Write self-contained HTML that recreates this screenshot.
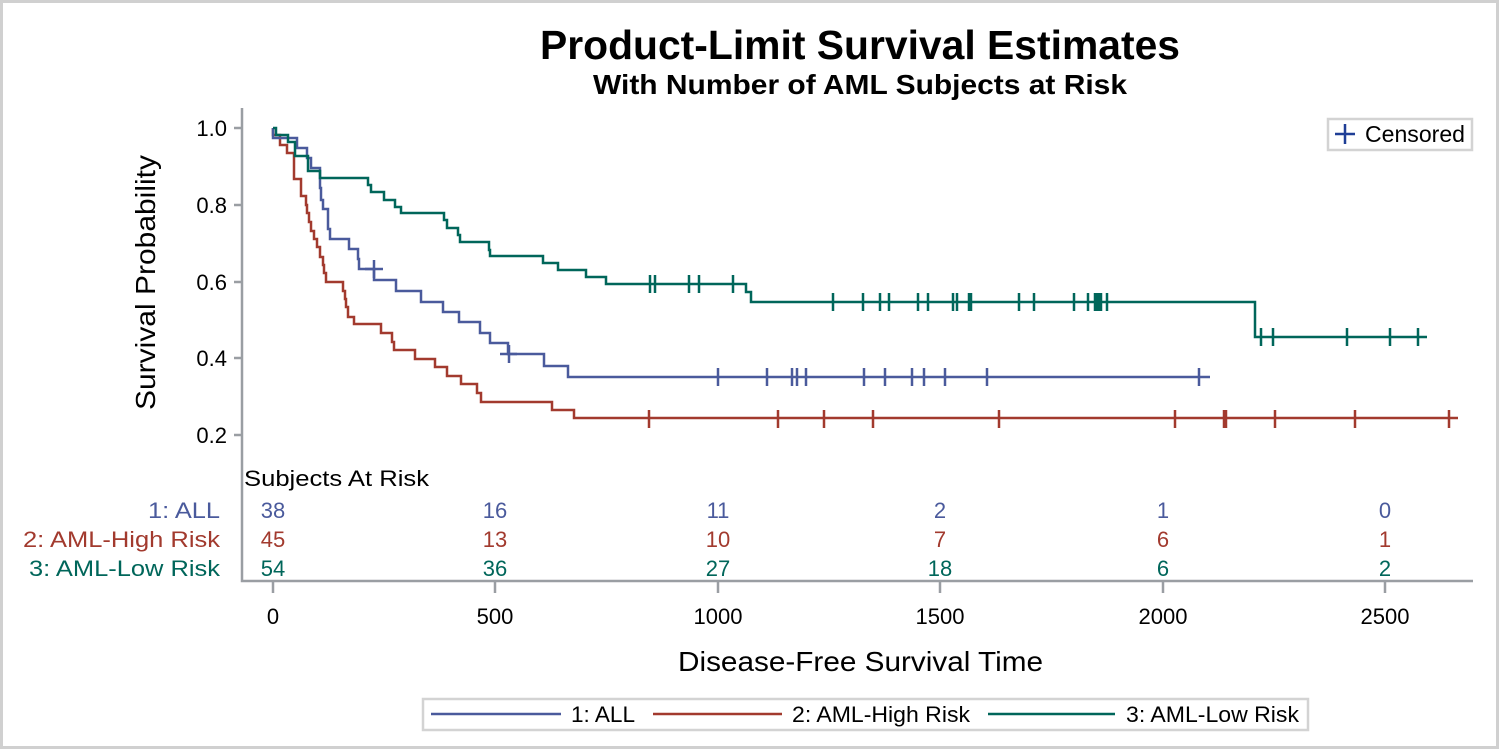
<!DOCTYPE html>
<html><head><style>
html,body{margin:0;padding:0;background:#fff}
svg{display:block;font-family:"Liberation Sans",Arial,sans-serif}
</style></head><body>
<svg width="1500" height="750" viewBox="0 0 1500 750">
<rect x="1.5" y="1.5" width="1496" height="746" fill="#fff" stroke="#d0d0d0" stroke-width="3"/>
<text x="540" y="59" font-size="41" font-weight="bold" textLength="640" lengthAdjust="spacingAndGlyphs">Product-Limit Survival Estimates</text>
<text x="593" y="94" font-size="28" font-weight="bold" textLength="534" lengthAdjust="spacingAndGlyphs">With Number of AML Subjects at Risk</text>
<g stroke="#9a9ea3" stroke-width="2.5" fill="none">
<path d="M242,108 V581 H1473"/>
<path d="M234,128 H242 M234,205 H242 M234,282 H242 M234,358 H242 M234,435 H242"/>
<path d="M273,581 V593 M495,581 V593 M718,581 V593 M940,581 V593 M1163,581 V593 M1385,581 V593"/>
</g>
<g font-size="22" text-anchor="end">
<text x="227" y="136">1.0</text><text x="227" y="213">0.8</text><text x="227" y="290">0.6</text><text x="227" y="366">0.4</text><text x="227" y="443">0.2</text>
</g>
<g font-size="22" text-anchor="middle">
<text x="273" y="624">0</text><text x="495" y="624">500</text><text x="718" y="624">1000</text><text x="940" y="624">1500</text><text x="1163" y="624">2000</text><text x="1385" y="624">2500</text>
</g>
<text x="678" y="671" font-size="28" textLength="365" lengthAdjust="spacingAndGlyphs">Disease-Free Survival Time</text>
<text transform="translate(155,410) rotate(-90)" font-size="28" textLength="255" lengthAdjust="spacingAndGlyphs">Survival Probability</text>
<g fill="none" stroke-width="2.5">
<path stroke="#a23a2e" d="M273,128 V135 H280 V145 H287 V153 H294 V179 H301 V196 H306 V205 H307 V213 H309 V222 H311 V231 H314 V239 H317 V247 H320 V257 H323 V265 H324 V273 H326 V282 H343 V291 H345 V299 H346 V307 H348 V317 H354 V324 H381 V333 H392 V342 H394 V350 H415 V359 H435 V367 H447 V376 H461 V384 H477 V393 H481 V402 H552 V410 H574 V418 H1458"/>
<path stroke="#a23a2e" d="M649,410 V428 M778,410 V428 M824,410 V428 M873,410 V428 M999,410 V428 M1175,410 V428 M1224,410 V428 M1226,410 V428 M1275,410 V428 M1355,410 V428 M1449,410 V428"/>
<path stroke="#4a5a9c" d="M273,128 V138 H297 V148 H307 V158 H311 V168 H320 V188 H321 V200 H323 V209 H328 V229 H330 V239 H349 V249 H358 V259 H359 V269 H374 V280 H396 V291 H421 V302 H443 V312 H459 V322 H480 V333 H490 V343 H508 V354 H544 V366 H568 V377 H1210"/>
<path stroke="#4a5a9c" d="M374,260 V278 M365,269 H383 M509,345 V363 M500,354 H517 M718,368 V386 M767,368 V386 M792,368 V386 M797,368 V386 M806,368 V386 M864,368 V386 M885,368 V386 M912,368 V386 M924,368 V386 M945,368 V386 M987,368 V386 M1199,368 V386"/>
<path stroke="#00665a" d="M273,128 H276 V135 H288 V142 H295 V156 H308 V171 H320 V178 H368 V185 H371 V192 H384 V200 H395 V207 H401 V213 H444 V220 H447 V228 H458 V235 H460 V242 H489 V250 H490 V256 H543 V263 H558 V270 H586 V277 H606 V284 H746 V292 H751 V302 H1255 V337 H1427"/>
<path stroke="#00665a" d="M650,275 V293 M655,275 V293 M689,275 V293 M699,275 V293 M733,275 V293 M833,293 V311 M863,293 V311 M880,293 V311 M889,293 V311 M918,293 V311 M928,293 V311 M953,293 V311 M957,293 V311 M969,293 V311 M971,293 V311 M1019,293 V311 M1034,293 V311 M1074,293 V311 M1088,293 V311 M1095,293 V311 M1097,293 V311 M1099,293 V311 M1101,293 V311 M1107,293 V311 M1261,328 V346 M1273,328 V346 M1347,328 V346 M1390,328 V346 M1418,328 V346"/>
</g>
<rect x="1328" y="119" width="144" height="31" fill="#fff" stroke="#d3d3d3" stroke-width="2.5"/>
<path d="M1335,134 H1355 M1345,124 V144" stroke="#1f3e96" stroke-width="2.5"/>
<text x="1365" y="142" font-size="23" textLength="100" lengthAdjust="spacingAndGlyphs">Censored</text>
<text x="244" y="486" font-size="22" textLength="185" lengthAdjust="spacingAndGlyphs">Subjects At Risk</text>
<g font-size="22" text-anchor="end">
<text x="220" y="518" fill="#4a5a9c" textLength="72" lengthAdjust="spacingAndGlyphs">1: ALL</text>
<text x="220" y="547" fill="#a23a2e" textLength="197" lengthAdjust="spacingAndGlyphs">2: AML-High Risk</text>
<text x="220" y="576" fill="#00665a" textLength="191" lengthAdjust="spacingAndGlyphs">3: AML-Low Risk</text>
</g>
<g font-size="22" text-anchor="middle">
<g fill="#4a5a9c"><text x="273" y="518">38</text><text x="495" y="518">16</text><text x="718" y="518">11</text><text x="940" y="518">2</text><text x="1163" y="518">1</text><text x="1385" y="518">0</text></g>
<g fill="#a23a2e"><text x="273" y="547">45</text><text x="495" y="547">13</text><text x="718" y="547">10</text><text x="940" y="547">7</text><text x="1163" y="547">6</text><text x="1385" y="547">1</text></g>
<g fill="#00665a"><text x="273" y="576">54</text><text x="495" y="576">36</text><text x="718" y="576">27</text><text x="940" y="576">18</text><text x="1163" y="576">6</text><text x="1385" y="576">2</text></g>
</g>
<rect x="423" y="699" width="885" height="31" fill="#fff" stroke="#d3d3d3" stroke-width="2.5"/>
<g stroke-width="2.5">
<path d="M431,714 H561" stroke="#4a5a9c"/>
<path d="M653,714 H782" stroke="#a23a2e"/>
<path d="M988,714 H1115" stroke="#00665a"/>
</g>
<g font-size="22">
<text x="571" y="722" textLength="64" lengthAdjust="spacingAndGlyphs">1: ALL</text>
<text x="792" y="722" textLength="178" lengthAdjust="spacingAndGlyphs">2: AML-High Risk</text>
<text x="1126" y="722" textLength="173" lengthAdjust="spacingAndGlyphs">3: AML-Low Risk</text>
</g>
</svg>
</body></html>
